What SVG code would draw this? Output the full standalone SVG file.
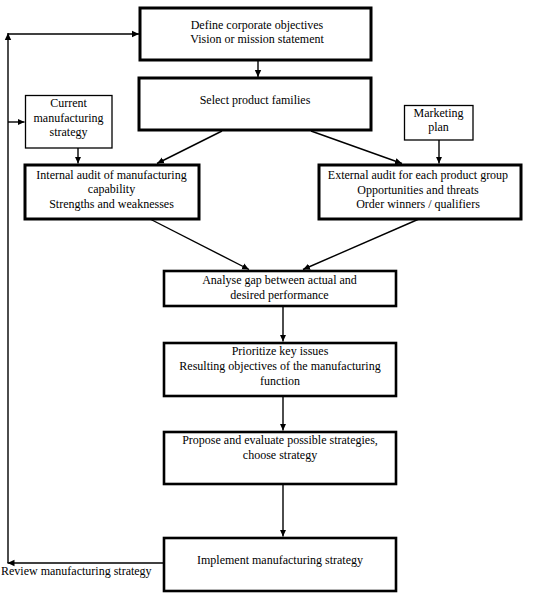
<svg xmlns="http://www.w3.org/2000/svg" width="535" height="594" viewBox="0 0 535 594">
<defs>
<marker id="ah" markerUnits="userSpaceOnUse" markerWidth="8" markerHeight="8" viewBox="0 0 8 8" refX="7" refY="4" orient="auto">
<path d="M0,0.8 L7,4 L0,7.2 Z" fill="#000"/>
</marker>
<style>
.thick{fill:#fff;stroke:#000;stroke-width:3}
.mid{fill:#fff;stroke:#000;stroke-width:2.6}
.thin{fill:#fff;stroke:#000;stroke-width:1.3}
.c{fill:none;stroke:#000;stroke-width:1.4}
.a{marker-end:url(#ah)}
text{font-family:"Liberation Serif","Times New Roman",serif;font-size:12px;fill:#000;text-anchor:middle}
</style>
</defs>
<g id="connectors">
<line class="c a" x1="258" y1="60" x2="258" y2="77"/>
<line class="c a" x1="222" y1="131" x2="157" y2="163.5"/>
<line class="c a" x1="311" y1="131" x2="402" y2="163.5"/>
<line class="c a" x1="78" y1="148" x2="78" y2="163.5"/>
<line class="c a" x1="439" y1="140" x2="439" y2="163.5"/>
<line class="c a" x1="150" y1="219" x2="249" y2="269.5"/>
<line class="c a" x1="419" y1="219" x2="303" y2="269.5"/>
<line class="c a" x1="283" y1="306" x2="283" y2="341.5"/>
<line class="c a" x1="283" y1="396" x2="283" y2="430.5"/>
<line class="c a" x1="283" y1="484" x2="283" y2="536.5"/>
<line class="c a" x1="163" y1="563" x2="7.5" y2="563"/>
<line class="c a" x1="8" y1="563" x2="8" y2="33"/>
<line class="c a" x1="8" y1="34" x2="139" y2="34"/>
<line class="c a" x1="8" y1="122" x2="24.5" y2="122"/>
<text x="1" y="575" style="text-anchor:start">Review manufacturing strategy</text>
</g>
<g id="n1">
<rect class="thick" x="140" y="8" width="231" height="52"/>
<text x="257" y="28.5">Define corporate objectives</text>
<text x="257" y="43">Vision or mission statement</text>
</g>
<g id="n2">
<rect class="thick" x="139" y="78" width="232" height="52"/>
<text x="255" y="104">Select product families</text>
</g>
<g id="n3">
<rect class="thin" x="25.5" y="95.5" width="86.5" height="52.5"/>
<text x="68.5" y="107">Current</text>
<text x="68.5" y="121.5">manufacturing</text>
<text x="68.5" y="136">strategy</text>
</g>
<g id="n4">
<rect class="thin" x="404.5" y="105.5" width="68.5" height="34.5"/>
<text x="438.5" y="116.5">Marketing</text>
<text x="438.5" y="131">plan</text>
</g>
<g id="n5">
<rect class="thick" x="25" y="165" width="174" height="54"/>
<text x="111.5" y="178.5">Internal audit of manufacturing</text>
<text x="111.5" y="193">capability</text>
<text x="111.5" y="207.5">Strengths and weaknesses</text>
</g>
<g id="n6">
<rect class="thick" x="319" y="165" width="202" height="54"/>
<text x="418" y="179">External audit for each product group</text>
<text x="418" y="193.5">Opportunities and threats</text>
<text x="418" y="207.5">Order winners / qualifiers</text>
</g>
<g id="n7">
<rect class="mid" x="164" y="271" width="232" height="35"/>
<text x="279.5" y="283.5">Analyse gap between actual and</text>
<text x="279.5" y="298.5">desired performance</text>
</g>
<g id="n8">
<rect class="mid" x="164" y="343" width="232" height="53"/>
<text x="280" y="355">Prioritize key issues</text>
<text x="280" y="370">Resulting objectives of the manufacturing</text>
<text x="280" y="384.5">function</text>
</g>
<g id="n9">
<rect class="mid" x="164" y="432" width="232" height="52"/>
<text x="280" y="444">Propose and evaluate possible strategies,</text>
<text x="280" y="459">choose strategy</text>
</g>
<g id="n10">
<rect class="mid" x="164" y="538" width="232" height="53"/>
<text x="280" y="564">Implement manufacturing strategy</text>
</g>
</svg>
